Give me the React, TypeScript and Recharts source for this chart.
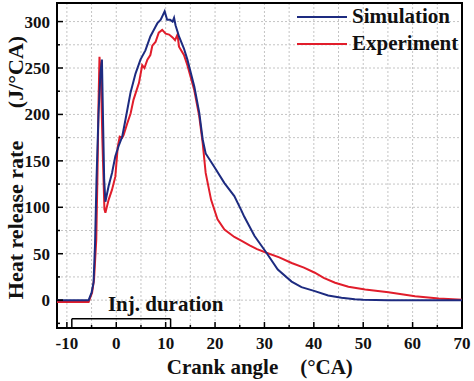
import { LineChart, Line, XAxis, YAxis, CartesianGrid, ReferenceArea, ReferenceLine, ReferenceDot, Legend } from 'recharts'

// Simulation (blue)
const simAngle = [-12, -5.6, -5.0, -4.6, -4.3, -4.0, -3.6, -3.2, -2.9, -2.7, -2.45, -2.2, -1.55, -0.86, -0.19, 0.48, 1.2, 1.85, 2.87, 3.9, 4.9, 5.9, 6.9, 8.0, 8.3, 9.0, 9.8, 10.3, 10.9, 11.4, 11.7, 12.0, 12.7, 13.7, 14.4, 15.8, 16.8, 17.5, 18.1, 19.8, 21.9, 23.9, 25.3, 25.9, 28.0, 30.4, 32.7, 35.5, 37.5, 40.2, 42.9, 45.6, 48.3, 50, 55, 70]
const simHrr = [0, 0, 8, 19, 60, 130, 200, 245, 259, 200, 130, 106, 123, 137, 155, 166, 176, 194, 223, 244, 259, 269, 284, 295, 298, 302, 311, 302, 302, 300, 304, 296, 284, 271, 259, 230, 202, 173, 158, 144, 126, 112, 97, 90, 69, 51, 33, 20, 14, 9.7, 5, 2.6, 1, 0.3, 0, 0]

// Experiment (red)
const expAngle = [-12, -5.6, -4.9, -4.5, -4.05, -3.8, -3.6, -3.4, -3.1, -2.8, -2.4, -2.2, -1.55, -0.86, -0.19, 0.3, 0.7, 1.2, 1.5, 2.2, 2.9, 3.5, 4.6, 5.25, 5.7, 6.3, 6.9, 7.3, 7.95, 8.6, 9.3, 10.0, 10.7, 11.4, 11.9, 12.4, 12.7, 13.7, 14.4, 15.8, 16.8, 17.5, 18.1, 19.2, 20.5, 21.9, 23.9, 25.3, 27, 28.5, 30.4, 33, 35.5, 38, 40.2, 42, 44.3, 47, 50.4, 55.1, 60.5, 65.3, 70]
const expHrr = [-2, -2, 8, 22, 65, 137, 210, 262, 240, 170, 98, 94, 108, 119, 133, 165, 176, 175, 178, 190, 201, 216, 234, 253, 250, 259, 264, 274, 278, 288, 291, 287, 286, 283, 280, 286, 273, 264, 253, 226, 198, 169, 137, 108, 87, 76, 68, 64, 59, 55, 51, 46, 40, 35, 29.5, 24, 18.7, 14.5, 11.5, 8.6, 4.3, 1.8, 0.5]

const xTicks = [-10, -5, 0, 5, 10, 15, 20, 25, 30, 35, 40, 45, 50, 55, 60, 65, 70]
const yTicks = [-25, 0, 25, 50, 75, 100, 125, 150, 175, 200, 225, 250, 275, 300]
const xDomain = [-12, 70]
const yDomain = [-30, 320]

// injection duration bracket
const injStart = -9
const injEnd = 11
const injLevel = -20

const simData = simAngle.map((a, i) => ({ angle: a, hrr: simHrr[i] }))
const expData = expAngle.map((a, i) => ({ angle: a, hrr: expHrr[i] }))

const SIM_COLOR = '#1d2b80'
const EXP_COLOR = '#e11d2b'
const FONT = 'Liberation Serif, DejaVu Serif, serif'
const X_MARGIN = 9
const Y_MARGIN = 7

const tickStyle = { fontFamily: FONT, fontWeight: 'bold' as const, fontSize: 17, fill: '#111' }

const XTick = ({ x, y, payload }: any) => {
  const major = payload.value % 10 === 0
  const axisY = y - X_MARGIN
  return (
    <g>
      <line x1={x} x2={x} y1={axisY} y2={axisY - (major ? 6 : 3)} stroke="#000" strokeWidth={1.5} />
      {major && (
        <text x={x} y={y} dy="0.71em" textAnchor="middle" style={tickStyle}>
          {payload.value}
        </text>
      )}
    </g>
  )
}

const YTick = ({ x, y, payload }: any) => {
  const major = payload.value % 50 === 0
  const axisX = x + Y_MARGIN
  return (
    <g>
      <line x1={axisX} x2={axisX + (major ? 6 : 3)} y1={y} y2={y} stroke="#000" strokeWidth={1.5} />
      {major && (
        <text x={x} y={y} dy="0.355em" textAnchor="end" style={tickStyle}>
          {payload.value}
        </text>
      )}
    </g>
  )
}

const labelStyle = { fontFamily: FONT, fontWeight: 'bold' as const, fontSize: 21, fill: '#111' }
const yLabelStyle = { ...labelStyle, fontSize: 22 }

const XLabel = ({ viewBox }: any) => {
  const cx = viewBox.x + viewBox.width / 2
  const by = viewBox.y + 46
  return (
    <g>
      <text x={cx - 37} y={by} textAnchor="middle" style={labelStyle}>Crank angle</text>
      <text x={cx + 67} y={by} textAnchor="middle" style={labelStyle}>(°CA)</text>
    </g>
  )
}

const YLabel = ({ viewBox }: any) => {
  const bx = 23
  const c1 = viewBox.y + 217
  const c2 = viewBox.y + 69
  return (
    <g>
      <text x={bx} y={c1} textAnchor="middle" transform={`rotate(-90, ${bx}, ${c1})`} style={yLabelStyle}>
        Heat release rate
      </text>
      <text x={bx} y={c2} textAnchor="middle" transform={`rotate(-90, ${bx}, ${c2})`} style={yLabelStyle}>
        (J/°CA)
      </text>
    </g>
  )
}

const InjLabel = ({ viewBox }: any) => (
  <text x={viewBox.x + viewBox.width / 2} y={viewBox.y + viewBox.height / 2} dy="0.355em" textAnchor="middle" style={labelStyle}>
    Inj. duration
  </text>
)

const series = [
  { name: 'Simulation', color: SIM_COLOR },
  { name: 'Experiment', color: EXP_COLOR },
]

const LegendBox = () => (
  <div style={{ fontFamily: FONT, fontWeight: 'bold', fontSize: 21, color: '#111' }}>
    {series.map((s) => (
      <div key={s.name} style={{ display: 'flex', alignItems: 'center', height: 27 }}>
        <span style={{ display: 'inline-block', width: 50, borderTop: `2px solid ${s.color}`, marginRight: 5 }} />
        <span>{s.name}</span>
      </div>
    ))}
  </div>
)

export default function App() {
  return (
    <div style={{ position: 'absolute', left: 0, top: 0, background: '#fff', fontFamily: FONT }}>
      <LineChart width={474} height={381} margin={{ top: 3, right: 12, left: 0, bottom: 0 }}>
        <CartesianGrid
          stroke="#c4c4c4"
          strokeDasharray="2 2"
          verticalValues={xTicks}
          horizontalValues={yTicks.filter((t) => t >= 0)}
        />
        <XAxis
          dataKey="angle"
          type="number"
          domain={xDomain}
          ticks={xTicks}
          interval={0}
          allowDataOverflow
          axisLine={false}
          tickLine={false}
          tickSize={0}
          tickMargin={X_MARGIN}
          tick={<XTick />}
          height={53}
          label={{ content: <XLabel /> }}
        />
        <YAxis
          type="number"
          domain={yDomain}
          ticks={yTicks}
          interval={0}
          allowDataOverflow
          axisLine={false}
          tickLine={false}
          tickSize={0}
          tickMargin={Y_MARGIN}
          tick={<YTick />}
          width={57}
          label={{ content: <YLabel /> }}
        />
        <ReferenceLine segment={[{ x: injStart, y: injLevel }, { x: injEnd, y: injLevel }]} stroke="#000" strokeWidth={1.5} />
        <ReferenceLine segment={[{ x: injStart, y: injLevel }, { x: injStart, y: yDomain[0] }]} stroke="#000" strokeWidth={1.5} />
        <ReferenceLine segment={[{ x: injEnd, y: injLevel }, { x: injEnd, y: yDomain[0] }]} stroke="#000" strokeWidth={1.5} />
        <ReferenceDot x={10} y={-4} r={0} fill="none" stroke="none" label={{ content: <InjLabel />, position: 'center' }} />
        <Line data={expData} dataKey="hrr" name="Experiment" stroke={EXP_COLOR} strokeWidth={2} dot={false} isAnimationActive={false} />
        <Line data={simData} dataKey="hrr" name="Simulation" stroke={SIM_COLOR} strokeWidth={2} dot={false} isAnimationActive={false} />
        <ReferenceArea x1={xDomain[0]} x2={xDomain[1]} y1={yDomain[0]} y2={yDomain[1]} fill="none" stroke="#000" strokeWidth={2} />
        <Legend
          layout="vertical"
          align="center"
          verticalAlign="middle"
          content={<LegendBox />}
          wrapperStyle={{ top: 3, left: 297, width: 175 }}
        />
      </LineChart>
    </div>
  )
}
